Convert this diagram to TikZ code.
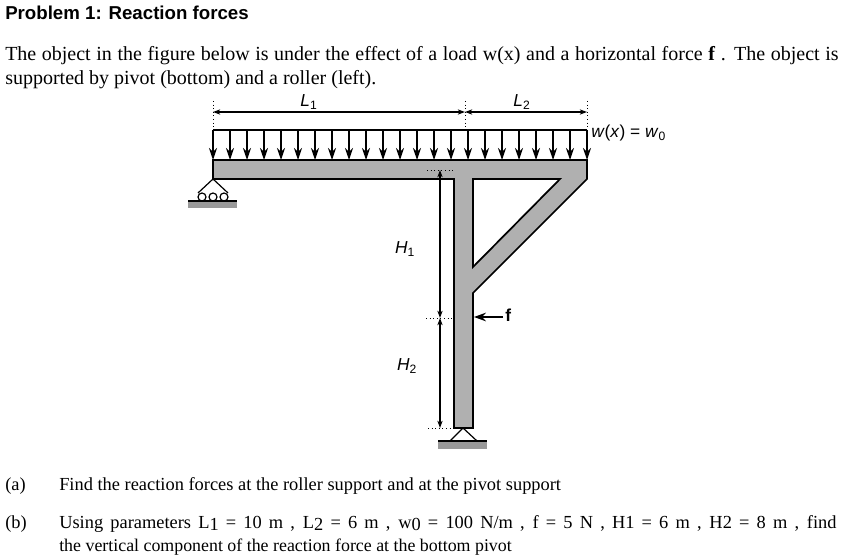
\documentclass[tikz,border=0pt]{standalone}
\usepackage{fontspec}
\setmainfont{Liberation Serif}
\setsansfont{Liberation Sans}
\usetikzlibrary{arrows.meta}
\definecolor{beamgray}{HTML}{B0B0B0}
\definecolor{groundgray}{HTML}{999999}
\tikzset{
  textline/.style={anchor=base west,inner sep=0pt,font=\fontsize{15}{18}\selectfont},
  partline/.style={anchor=base west,inner sep=0pt,font=\fontsize{13.8}{17.25}\selectfont},
  dimlabel/.style={inner sep=0pt,font=\fontsize{13}{15}\sffamily\itshape},
  dimline/.style={line width=0.8pt,{Stealth[length=5.5pt,width=4pt]}-{Stealth[length=5.5pt,width=4pt]}},
  guide/.style={dotted,line width=0.7pt},
  load/.style={line width=0.9pt,-{Stealth[length=9pt,width=6pt]}},
  structure/.style={draw=black,line width=1.3pt,fill=beamgray,line join=miter},
  ground/.style={fill=groundgray,draw=none}
}
\newcommand{\lowdigit}[1]{\raisebox{-1.5pt}{#1}}
\begin{document}
\begin{tikzpicture}[x=0.75pt,y=-0.75pt]
  \useasboundingbox (0,0) rectangle (842,559);

  % texts
  \node[textline,font=\fontsize{14}{18}\sffamily\bfseries] (title) at (5,20) {Problem 1: Reaction forces};
  \node[textline,text width=625pt,align=justify] (intro) at (5,61)
    {The object in the figure below is under the effect of a load w(x) and a horizontal force \textbf{f} . The object is\linebreak supported by pivot (bottom) and a roller (left).};
  \node[partline] (parta) at (5,490) {(a)};
  \node[partline] (findreaction) at (59,490) {Find the reaction forces at the roller support and at the pivot support};
  \node[partline] (partb) at (5,528) {(b)};
  \node[partline,text width=583pt,align=justify] (usingparam) at (59,528)
    {Using parameters L\lowdigit{1} = 10 m , L\lowdigit{2} = 6 m , w\lowdigit{0} = 100 N/m , f = 5 N , H1 = 6 m , H2 = 8 m , find\linebreak {\fontsize{13.4}{17.25}\selectfont the vertical component of the reaction force at the bottom pivot}};

  % frame
  \coordinate (beamTL) at (213,160);
  \coordinate (beamTR) at (587,160);
  \coordinate (beamR) at (587,179);
  \coordinate (braceO) at (473,293);
  \coordinate (stemBR) at (473,428);
  \coordinate (stemBL) at (454,428);
  \coordinate (stemTL) at (454,179);
  \coordinate (beamBL) at (213,179);
  \coordinate (braceI) at (560,179);
  \coordinate (braceJ) at (473,267);
  \coordinate (stemTR) at (473,179);
  \draw[structure] (beamTL) -- (beamTR) -- (beamR) -- (braceO) -- (stemBR) -- (stemBL) -- (stemTL) -- (beamBL) -- cycle;
  \draw[line width=1.3pt,fill=white] (stemTR) -- (braceI) -- (braceJ) -- cycle;

  % distributed load
  \coordinate (loadL) at (213,130);
  \coordinate (loadR) at (587,130);
  \draw[line width=0.9pt] (loadL) -- (loadR);
  \foreach \i in {0,...,22} {
    \coordinate (top\i) at ({213+17*\i},130);
    \coordinate (bot\i) at ({213+17*\i},160);
    \draw[load] (top\i) -- (bot\i);
  }
  \node[inner sep=0pt,anchor=base west,font=\fontsize{13}{15}\sffamily] (wlabel) at (591,138) {\textit{w}(\textit{x}) = \textit{w}\textsubscript{0}};

  % horizontal dimensions
  \coordinate (dimA) at (213,112);
  \coordinate (dimB) at (465,112);
  \coordinate (dimC) at (587,112);
  \coordinate (guideA) at (213,101);
  \coordinate (guideB) at (465,101);
  \coordinate (guideC) at (587,101);
  \coordinate (guideAe) at (213,130);
  \coordinate (guideBe) at (465,128);
  \coordinate (guideCe) at (587,130);
  \draw[guide] (guideA) -- (guideAe);
  \draw[guide] (guideB) -- (guideBe);
  \draw[guide] (guideC) -- (guideCe);
  \draw[dimline] (dimA) -- (dimB);
  \draw[dimline] (dimB) -- (dimC);
  \node[dimlabel] (Lone) at (309,102) {L\textsubscript{\upshape 1}};
  \node[dimlabel] (Ltwo) at (522,102) {L\textsubscript{\upshape 2}};

  % vertical dimensions
  \coordinate (dimD) at (440,170);
  \coordinate (dimE) at (440,318);
  \coordinate (dimF) at (440,428);
  \coordinate (guideD) at (427,170);
  \coordinate (guideDe) at (453,170);
  \coordinate (guideE) at (426,318);
  \coordinate (guideEe) at (453,318);
  \coordinate (guideF) at (428,428);
  \coordinate (guideFe) at (453,428);
  \draw[guide] (guideD) -- (guideDe);
  \draw[guide] (guideE) -- (guideEe);
  \draw[guide] (guideF) -- (guideFe);
  \draw[dimline] (dimD) -- (dimE);
  \draw[dimline] (dimE) -- (dimF);
  \node[dimlabel] (Hone) at (405,249) {H\textsubscript{\upshape 1}};
  \node[dimlabel] (Htwo) at (407,366) {H\textsubscript{\upshape 2}};

  % force f
  \coordinate (fstart) at (503,317);
  \coordinate (fend) at (474,317);
  \draw[line width=0.9pt,-{Stealth[length=9pt,width=6.5pt]}] (fstart) -- (fend);
  \node[inner sep=0pt,anchor=west,font=\fontsize{13}{15}\sffamily\bfseries] (flabel) at (505,315) {f};

  % roller support
  \coordinate (rollA) at (213,179);
  \coordinate (rollB) at (198,193);
  \coordinate (rollC) at (228,193);
  \draw[line width=0.9pt] (rollB) -- (rollA) -- (rollC);
  \foreach \x in {202,213,224} {
    \node[circle,draw,line width=0.9pt,fill=white,inner sep=0pt,minimum size=6pt] (roll\x) at (\x,197) {};
  }
  \fill[groundgray] (188,201) rectangle (237,208);
  \coordinate (rollG) at (188,201);
  \coordinate (rollH) at (237,201);
  \draw[line width=0.9pt] (rollG) -- (rollH);

  % pivot support
  \coordinate (pivA) at (463,428);
  \coordinate (pivB) at (450,441);
  \coordinate (pivC) at (477,441);
  \draw[line width=0.9pt] (pivB) -- (pivA) -- (pivC);
  \fill[groundgray] (438,441) rectangle (487,449);
  \coordinate (pivG) at (438,441);
  \coordinate (pivH) at (487,441);
  \draw[line width=0.9pt] (pivG) -- (pivH);
\end{tikzpicture}
\end{document}
